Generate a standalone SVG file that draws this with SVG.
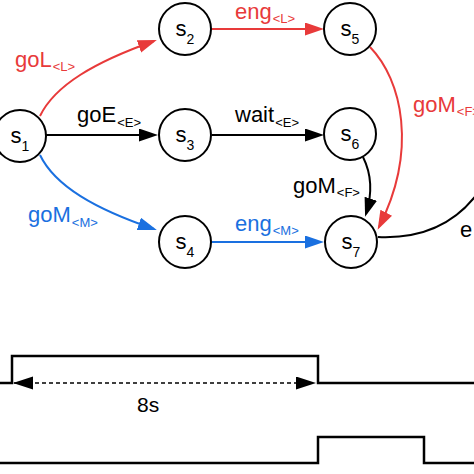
<svg xmlns="http://www.w3.org/2000/svg" width="474" height="474" viewBox="0 0 474 474">
<style>
text{font-family:"Liberation Sans",Arial,sans-serif;}
.lbl{font-size:22px;}
.sub{font-size:13px;}
.nd circle{fill:#fff;stroke:#000;stroke-width:2;}
.nd text{font-size:22px;fill:#000;}
.e{fill:none;stroke-width:2;}
.k{stroke:#000;}
.r{stroke:#e83a3a;}
.b{stroke:#1a70e0;}
.wave{fill:none;stroke:#000;stroke-width:2.5;}
</style>
<defs>
<marker id="ak" markerUnits="userSpaceOnUse" markerWidth="20" markerHeight="14" refX="16" refY="6.5" orient="auto"><path d="M0,0 L19,6.5 L0,13 z" fill="#000"/></marker>
<marker id="ar" markerUnits="userSpaceOnUse" markerWidth="20" markerHeight="14" refX="16" refY="6.5" orient="auto"><path d="M0,0 L19,6.5 L0,13 z" fill="#e83a3a"/></marker>
<marker id="ab" markerUnits="userSpaceOnUse" markerWidth="20" markerHeight="14" refX="16" refY="6.5" orient="auto"><path d="M0,0 L19,6.5 L0,13 z" fill="#1a70e0"/></marker>
<marker id="at" markerUnits="userSpaceOnUse" markerWidth="21" markerHeight="14" refX="19" refY="6.5" orient="auto-start-reverse"><path d="M0,0 L20,6.5 L0,13 z" fill="#000"/></marker>
</defs>

<g id="connectors">
<path class="e r" d="M40,116 C55,85 95,62 154,41" marker-end="url(#ar)"/>
<path class="e k" d="M46,135 L155,135" marker-end="url(#ak)"/>
<path class="e b" d="M40,155 C55,186 95,209 154,229" marker-end="url(#ab)"/>
<path class="e r" d="M212,29 L321,29" marker-end="url(#ar)"/>
<path class="e k" d="M212,135 L321,135" marker-end="url(#ak)"/>
<path class="e b" d="M212,242 L321,242" marker-end="url(#ab)"/>
<path class="e k" d="M363,157 C372,175 372,195 366,214" marker-end="url(#ak)"/>
<path class="e r" d="M370,47 C402,80 418,150 379,227" marker-end="url(#ar)"/>
<path class="e k" d="M378,237 Q445,240 480,190"/>
</g>

<g id="labels">
<text class="lbl" x="15" y="67" fill="#e83a3a">goL<tspan class="sub" dy="4" dx="1">&lt;L&gt;</tspan></text>
<text class="lbl" x="77" y="122" fill="#000">goE<tspan class="sub" dy="5" dx="1">&lt;E&gt;</tspan></text>
<text class="lbl" x="28" y="222" fill="#1a70e0">goM<tspan class="sub" dy="5" dx="1">&lt;M&gt;</tspan></text>
<text class="lbl" x="235" y="19" fill="#e83a3a">eng<tspan class="sub" dy="4" dx="1">&lt;L&gt;</tspan></text>
<text class="lbl" x="235" y="122" fill="#000">wait<tspan class="sub" dy="5" dx="1">&lt;E&gt;</tspan></text>
<text class="lbl" x="235" y="231" fill="#1a70e0">eng<tspan class="sub" dy="4" dx="1">&lt;M&gt;</tspan></text>
<text class="lbl" x="413" y="112" fill="#e83a3a">goM<tspan class="sub" dy="4" dx="1">&lt;F&gt;</tspan></text>
<text class="lbl" x="293" y="193" fill="#000">goM<tspan class="sub" dy="4" dx="1">&lt;F&gt;</tspan></text>
<text class="lbl" x="460" y="237" fill="#000">e</text>
</g>

<g id="s1" class="nd"><circle cx="20" cy="136" r="26"/><text x="20" y="143" text-anchor="middle">s<tspan font-size="14" dy="8">1</tspan></text></g>
<g id="s2" class="nd"><circle cx="185" cy="29" r="26"/><text x="185" y="36" text-anchor="middle">s<tspan font-size="14" dy="8">2</tspan></text></g>
<g id="s3" class="nd"><circle cx="185" cy="135" r="26"/><text x="185" y="142" text-anchor="middle">s<tspan font-size="14" dy="8">3</tspan></text></g>
<g id="s4" class="nd"><circle cx="185" cy="242" r="26"/><text x="185" y="249" text-anchor="middle">s<tspan font-size="14" dy="8">4</tspan></text></g>
<g id="s5" class="nd"><circle cx="350" cy="29" r="26"/><text x="350" y="36" text-anchor="middle">s<tspan font-size="14" dy="8">5</tspan></text></g>
<g id="s6" class="nd"><circle cx="350" cy="134" r="26"/><text x="350" y="141" text-anchor="middle">s<tspan font-size="14" dy="8">6</tspan></text></g>
<g id="s7" class="nd"><circle cx="351" cy="242" r="26"/><text x="351" y="249" text-anchor="middle">s<tspan font-size="14" dy="8">7</tspan></text></g>

<g id="timing">
<path class="wave" d="M0,383 H12 V356 H318 V383 H474"/>
<path class="wave" d="M0,463 H318 V437 H424 V463 H474"/>
<path d="M14,383 H315" fill="none" stroke="#000" stroke-width="1.5" stroke-dasharray="4,3" marker-start="url(#at)" marker-end="url(#at)"/>
<text x="137" y="412" font-size="21px" fill="#000">8s</text>
</g>
</svg>
